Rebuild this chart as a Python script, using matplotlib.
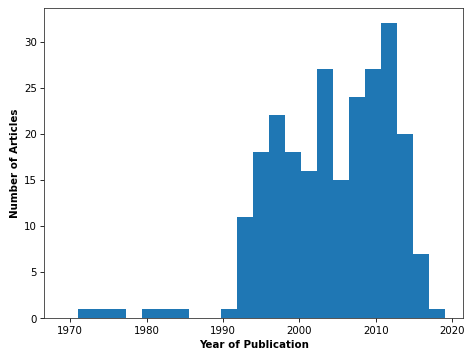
import numpy as np
import matplotlib
matplotlib.use("Agg")
import matplotlib.pyplot as plt

# histogram of publication years: 23 bins between first and last year
first_year = 1971
last_year = 2019
n_bins = 23
counts = [1, 1, 1, 0, 1, 1, 1, 0, 0, 1,
          11, 18, 22, 18, 16, 27, 15, 24, 27, 32, 20, 7, 1]

edges = np.linspace(first_year, last_year, n_bins + 1)
centers = (edges[:-1] + edges[1:]) / 2

fig = plt.figure(figsize=(6.4, 4.8), dpi=474 / 6.4)
ax = fig.add_subplot(111)
ax.hist(centers, bins=edges, weights=counts, color='#1f77b4')
ax.set_xlim(1966.6, 2021.4)
ax.set_xlabel('Year of Publication', fontweight='bold')
ax.set_ylabel('Number of Articles', fontweight='bold')
for s in ax.spines.values():
    s.set_color('#333333')
fig.subplots_adjust(left=0.093, right=0.977, top=0.975, bottom=0.104)
plt.savefig('out.png')
